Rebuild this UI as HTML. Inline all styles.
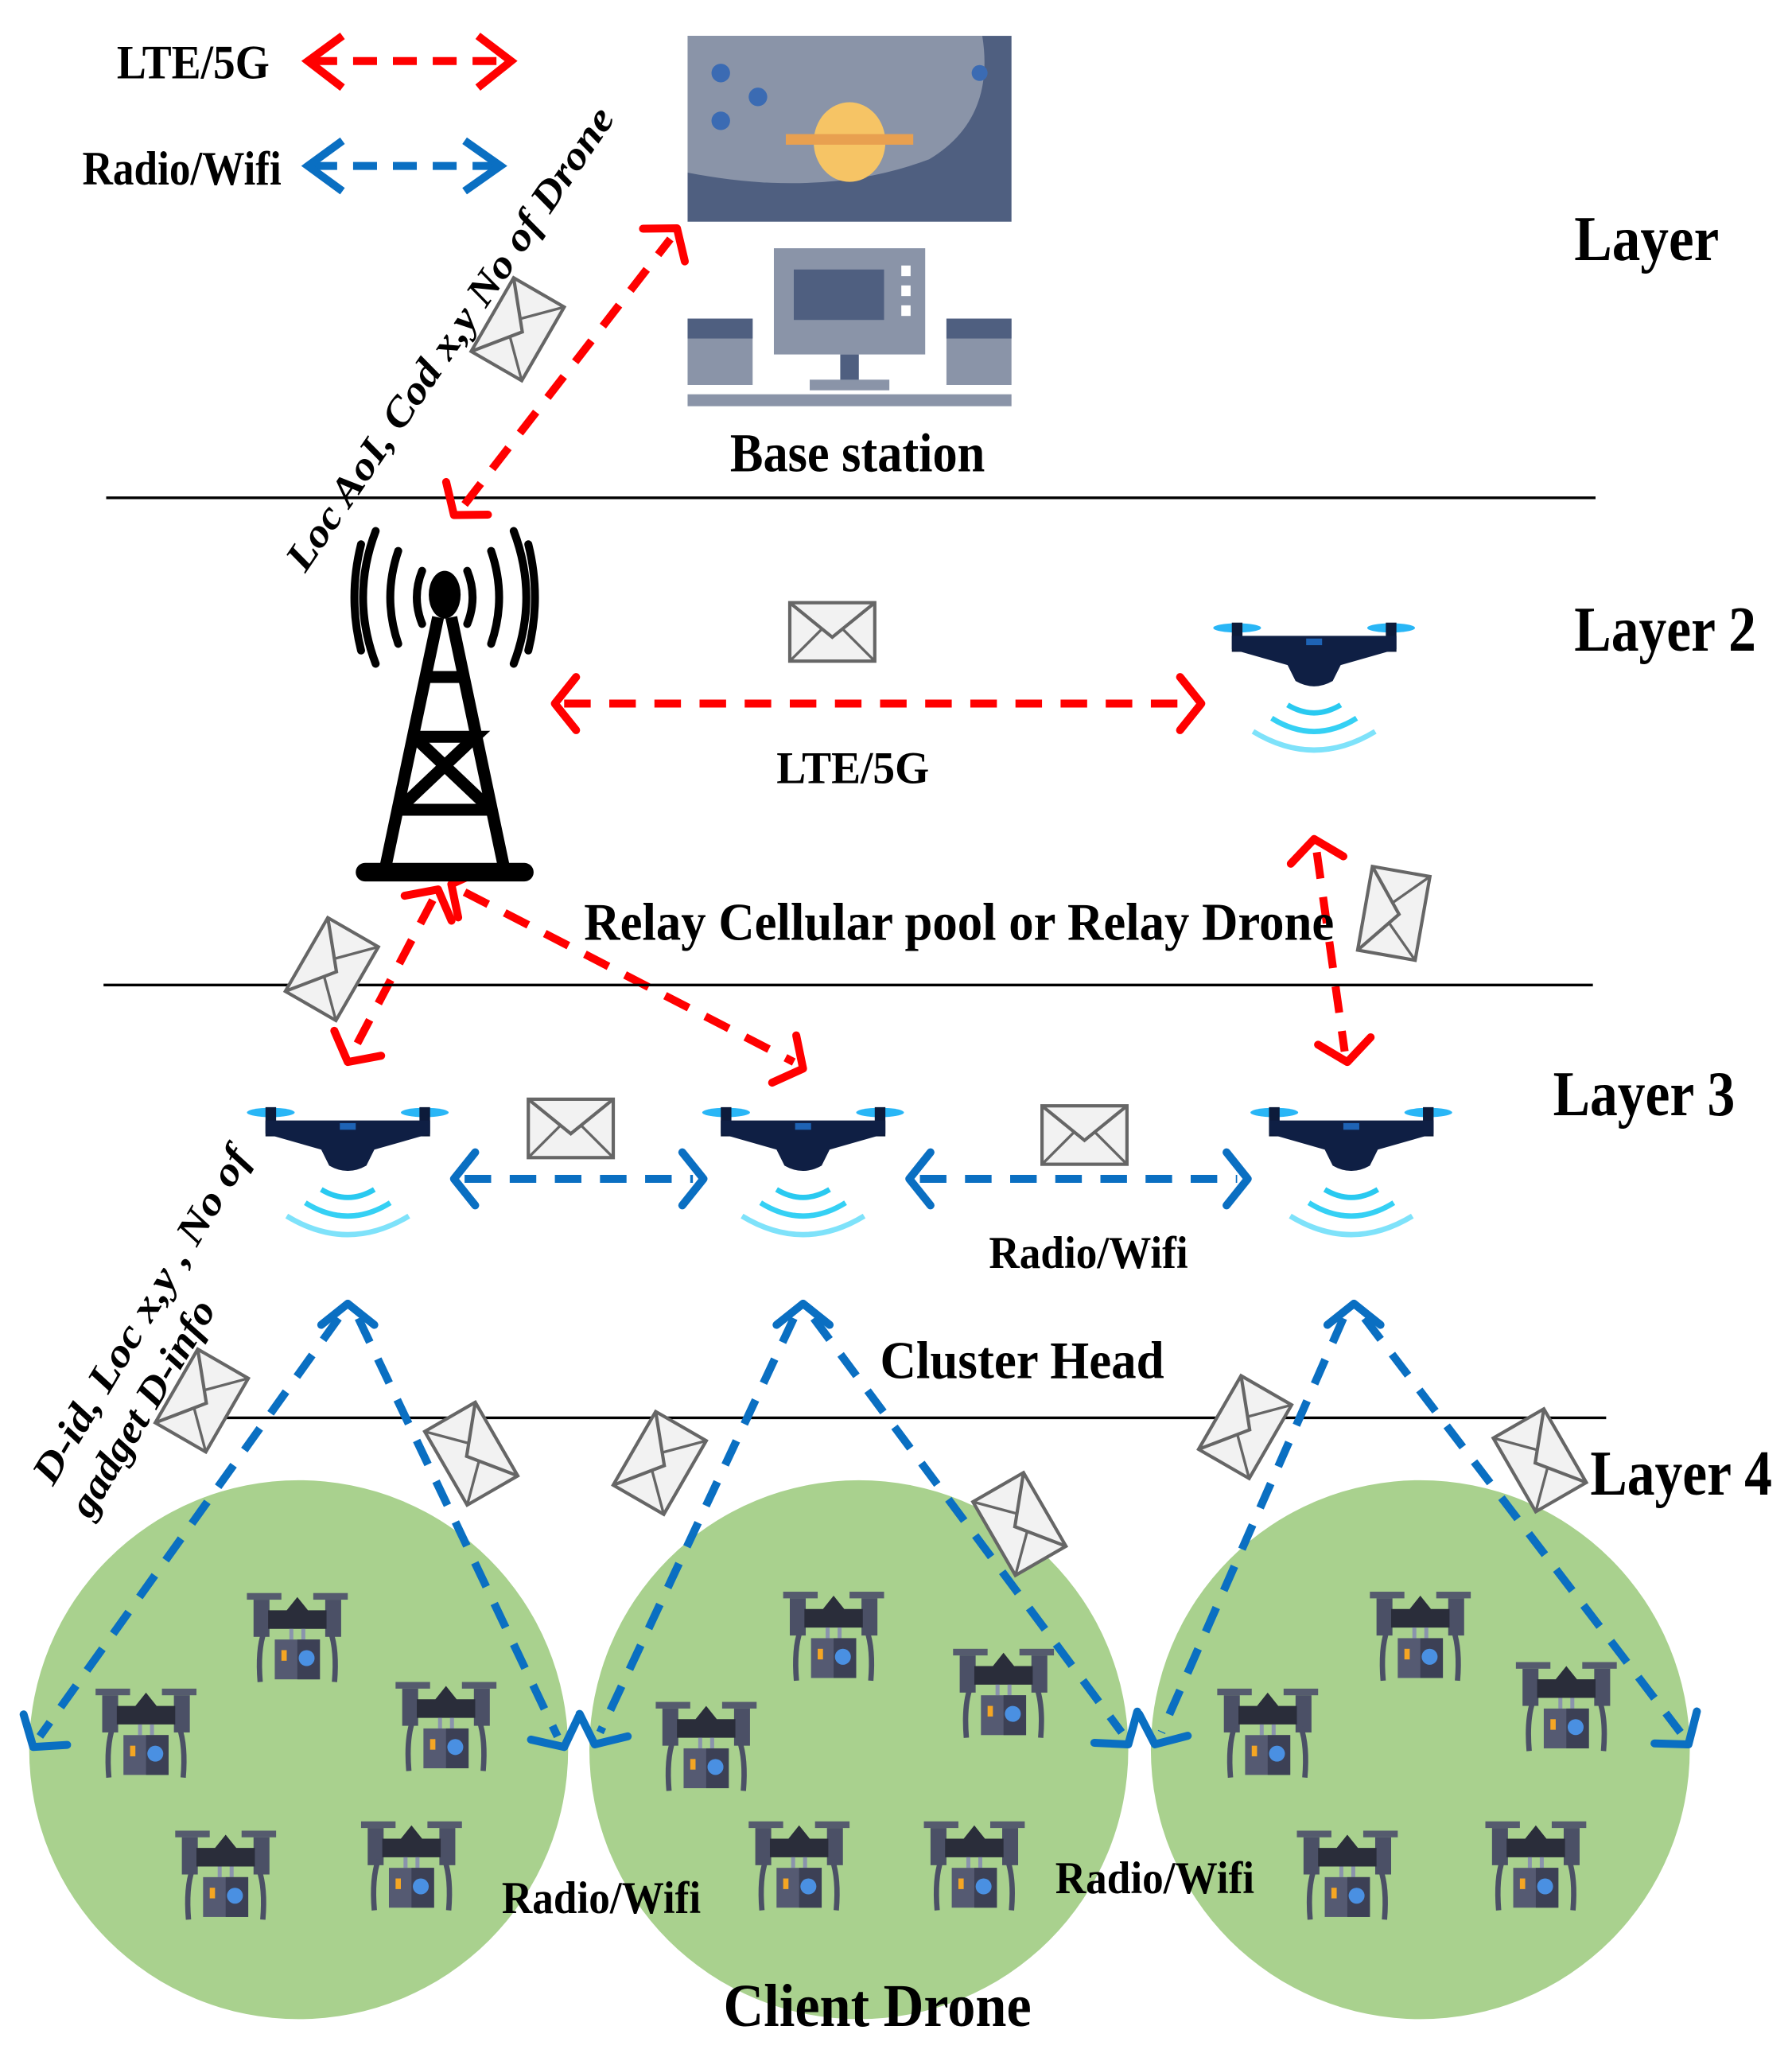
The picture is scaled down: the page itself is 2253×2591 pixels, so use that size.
<!DOCTYPE html>
<html><head><meta charset="utf-8"><style>
html,body{margin:0;padding:0;background:#fff;}
svg{display:block;}
text{font-family:"Liberation Serif",serif;font-weight:bold;fill:#000;}
</style></head><body>
<svg width="2253" height="2591" viewBox="0 0 1350 1552.5" preserveAspectRatio="none" xmlns="http://www.w3.org/2000/svg">
<defs>
<g id="env">
<rect x="-32" y="-22" width="64" height="44" fill="#f2f2f2" stroke="#666" stroke-width="2.5"/>
<polyline points="-32,-22 0,4 32,-22" fill="none" stroke="#666" stroke-width="2.5"/>
<line x1="-32" y1="22" x2="-8" y2="-2" stroke="#666" stroke-width="2"/>
<line x1="32" y1="22" x2="8" y2="-2" stroke="#666" stroke-width="2"/>
</g>
<g id="drone">
<ellipse cx="-58" cy="-22" rx="18" ry="3.5" fill="#29b6f6"/>
<ellipse cx="58" cy="-22" rx="18" ry="3.5" fill="#29b6f6"/>
<rect x="-62" y="-26" width="8" height="22" fill="#0d1b3a"/>
<rect x="54" y="-26" width="8" height="22" fill="#0d1b3a"/>
<path d="M-62,-16 L62,-16 L62,-6 L20,6 L14,18 Q0,26 -14,18 L-20,6 L-62,-6 Z" fill="#0f1f44"/>
<rect x="-6" y="-14" width="12" height="5" fill="#1e63b5"/>
<path d="M-20,36 Q0,48 20,36" fill="none" stroke="#29c9f0" stroke-width="4"/>
<path d="M-32,46 Q0,66 32,46" fill="none" stroke="#35d0f4" stroke-width="4"/>
<path d="M-46,56 Q0,84 46,56" fill="none" stroke="#7ee2fa" stroke-width="4"/>
</g>
<g id="cd">
<rect x="-38" y="-33" width="26" height="5" fill="#555b6e"/>
<rect x="12" y="-33" width="26" height="5" fill="#555b6e"/>
<rect x="-33" y="-28" width="12" height="28" fill="#4b5066"/>
<rect x="21" y="-28" width="12" height="28" fill="#4b5066"/>
<path d="M-22,-20 L-8,-20 L0,-30 L8,-20 L22,-20 L22,-6 L-22,-6 Z" fill="#2a2d3a"/>
<path d="M-25,-4 Q-30,10 -28,34" fill="none" stroke="#4b5066" stroke-width="4"/>
<path d="M25,-4 Q30,10 28,34" fill="none" stroke="#4b5066" stroke-width="4"/>
<rect x="-6" y="-6" width="3" height="8" fill="#8a93ad"/><rect x="3" y="-6" width="3" height="8" fill="#8a93ad"/>
<rect x="-17" y="2" width="34" height="30" fill="#555a72"/>
<rect x="0" y="2" width="17" height="30" fill="#3c4055"/>
<rect x="-12" y="10" width="4" height="8" fill="#f5a623"/>
<circle cx="7" cy="16" r="6" fill="#4a90e2"/>
</g>
<g id="rh"><polyline points="-16,-20 0,0 -16,20" fill="none" stroke-width="6" stroke-linecap="round" stroke-linejoin="round"/></g>
</defs>

<!-- legend -->
<text x="88" y="59" font-size="36" textLength="115" lengthAdjust="spacingAndGlyphs">LTE/5G</text>
<g stroke="#f00" stroke-width="6" fill="none">
<line x1="236" y1="46" x2="382" y2="46" stroke-dasharray="18,12"/>
<polyline points="258,27 232,46 258,66"/><polyline points="360,27 385,46 360,66"/>
</g>
<text x="62" y="139" font-size="36" textLength="150" lengthAdjust="spacingAndGlyphs">Radio/Wifi</text>
<g stroke="#0a6fc2" stroke-width="6" fill="none">
<line x1="236" y1="125" x2="375" y2="125" stroke-dasharray="18,12"/>
<polyline points="258,106 232,125 258,144"/><polyline points="350,106 377,125 350,144"/>
</g>

<!-- base station -->
<rect x="518" y="27" width="244" height="140" fill="#4f5f80"/>
<path d="M518,27 L740,27 Q750,90 700,120 Q620,150 518,130 Z" fill="#8a94a8"/>
<circle cx="543" cy="55" r="7" fill="#3b6bb3"/><circle cx="571" cy="73" r="7" fill="#3b6bb3"/><circle cx="543" cy="91" r="7" fill="#3b6bb3"/><circle cx="738" cy="55" r="6" fill="#3b6bb3"/>
<ellipse cx="640" cy="107" rx="27" ry="30" fill="#f6c465"/>
<rect x="592" y="101" width="96" height="8" fill="#e8a050"/>
<rect x="583" y="187" width="114" height="80" fill="#8a94a8"/>
<rect x="598" y="203" width="68" height="38" fill="#4f5f80"/>
<rect x="679" y="200" width="7" height="8" fill="#fff"/><rect x="679" y="215" width="7" height="8" fill="#fff"/><rect x="679" y="230" width="7" height="8" fill="#fff"/>
<rect x="633" y="267" width="14" height="20" fill="#4f5f80"/>
<rect x="610" y="286" width="60" height="8" fill="#8a94a8"/>
<rect x="518" y="240" width="49" height="50" fill="#8a94a8"/><rect x="518" y="240" width="49" height="15" fill="#4f5f80"/>
<rect x="713" y="240" width="49" height="50" fill="#8a94a8"/><rect x="713" y="240" width="49" height="15" fill="#4f5f80"/>
<rect x="518" y="297" width="244" height="9" fill="#8a94a8"/>
<text x="550" y="355" font-size="41" textLength="192" lengthAdjust="spacingAndGlyphs">Base station</text>
<text x="1186" y="196" font-size="48" textLength="109" lengthAdjust="spacingAndGlyphs">Layer</text>

<line x1="80" y1="375" x2="1202" y2="375" stroke="#000" stroke-width="2"/>
<text transform="translate(230,432) rotate(-55.7)" font-size="30" font-style="italic" textLength="415" lengthAdjust="spacingAndGlyphs">Loc AoI, Cod x,y No of Drone</text>
<use href="#env" transform="translate(390,248) rotate(-60)"/>

<!-- red arrows -->
<g stroke="#f00" stroke-width="6" fill="none">
<line x1="350" y1="380" x2="505" y2="180" stroke-dasharray="20,14"/>
<use href="#rh" stroke="#f00" transform="translate(510,172) rotate(-52)"/>
<use href="#rh" stroke="#f00" transform="translate(342,388) rotate(128)"/>
<line x1="425" y1="530" x2="900" y2="530" stroke-dasharray="20,14"/>
<use href="#rh" stroke="#f00" transform="translate(418,530) rotate(180)"/>
<use href="#rh" stroke="#f00" transform="translate(905,530)"/>
<line x1="992" y1="642" x2="1013" y2="792" stroke-dasharray="20,14"/>
<use href="#rh" stroke="#f00" transform="translate(990,632) rotate(-98)"/>
<use href="#rh" stroke="#f00" transform="translate(1015,800) rotate(82)"/>
<line x1="326" y1="678" x2="266" y2="792" stroke-dasharray="20,14"/>
<use href="#rh" stroke="#f00" transform="translate(330,670) rotate(-62)"/>
<use href="#rh" stroke="#f00" transform="translate(262,800) rotate(118)"/>
<line x1="350" y1="672" x2="598" y2="800" stroke-dasharray="20,14"/>
<use href="#rh" stroke="#f00" transform="translate(340,666) rotate(-153)"/>
<use href="#rh" stroke="#f00" transform="translate(605,805) rotate(27)"/>
</g>

<!-- tower -->
<g fill="none" stroke="#000" stroke-width="6" stroke-linecap="round">
<path d="M318,430 Q310,450 318,470"/><path d="M352,430 Q360,450 352,470"/>
<path d="M300,415 Q288,450 300,485"/><path d="M370,415 Q382,450 370,485"/>
<path d="M283,400 Q264,450 283,500"/><path d="M387,400 Q406,450 387,500"/>
<path d="M272,410 Q262,450 272,490"/><path d="M398,410 Q408,450 398,490"/>
</g>
<ellipse cx="335" cy="448" rx="12" ry="18" fill="#000"/>
<g stroke="#000" stroke-width="9" fill="none">
<path d="M330,465 L290,655 M340,465 L380,655"/>
<path d="M322,510 L348,510 M312,555 L358,555 L300,610 M312,555 L370,610 M300,610 L370,610"/>
</g>
<rect x="268" y="650" width="134" height="14" rx="7" fill="#000"/>

<use href="#env" transform="translate(627,476)"/>
<text x="585" y="590" font-size="34" textLength="115" lengthAdjust="spacingAndGlyphs">LTE/5G</text>
<use href="#drone" transform="translate(990,495)"/>
<text x="1186" y="490" font-size="48" textLength="137" lengthAdjust="spacingAndGlyphs">Layer 2</text>
<use href="#env" transform="translate(1050,688) rotate(-80)"/>
<text x="440" y="708" font-size="40" textLength="565" lengthAdjust="spacingAndGlyphs">Relay Cellular pool or Relay Drone</text>
<line x1="78" y1="742" x2="1200" y2="742" stroke="#000" stroke-width="2"/>
<use href="#env" transform="translate(250,730) rotate(-60)"/>

<text x="1170" y="840" font-size="48" textLength="137" lengthAdjust="spacingAndGlyphs">Layer 3</text>
<use href="#drone" transform="translate(262,860)"/>
<use href="#drone" transform="translate(605,860)"/>
<use href="#drone" transform="translate(1018,860)"/>
<g stroke="#0a6fc2" stroke-width="6" fill="none">
<line x1="350" y1="888" x2="522" y2="888" stroke-dasharray="20,14"/>
<use href="#rh" stroke="#0a6fc2" transform="translate(342,888) rotate(180)"/>
<use href="#rh" stroke="#0a6fc2" transform="translate(530,888)"/>
<line x1="693" y1="888" x2="932" y2="888" stroke-dasharray="20,14"/>
<use href="#rh" stroke="#0a6fc2" transform="translate(685,888) rotate(180)"/>
<use href="#rh" stroke="#0a6fc2" transform="translate(940,888)"/>
</g>
<use href="#env" transform="translate(430,850)"/>
<use href="#env" transform="translate(817,855)"/>
<text x="745" y="955" font-size="34" textLength="150" lengthAdjust="spacingAndGlyphs">Radio/Wifi</text>
<text x="663" y="1038" font-size="40" textLength="214" lengthAdjust="spacingAndGlyphs">Cluster Head</text>
<line x1="145" y1="1068" x2="1210" y2="1068" stroke="#000" stroke-width="2"/>
<text x="1198" y="1126" font-size="48" textLength="137" lengthAdjust="spacingAndGlyphs">Layer 4</text>

<!-- circles -->
<circle cx="225" cy="1318" r="203" fill="#a9d18e"/>
<circle cx="647" cy="1318" r="203" fill="#a9d18e"/>
<circle cx="1070" cy="1318" r="203" fill="#a9d18e"/>

<text transform="translate(40,1120) rotate(-59)" font-size="30" font-style="italic" textLength="290" lengthAdjust="spacingAndGlyphs">D-id, Loc x,y , No of</text>
<text transform="translate(68,1145) rotate(-59)" font-size="30" font-style="italic" textLength="185" lengthAdjust="spacingAndGlyphs">gadget D-info</text>

<g stroke="#0a6fc2" stroke-width="6" fill="none">
<line x1="255" y1="993" x2="30" y2="1308" stroke-dasharray="20,14"/>
<line x1="270" y1="993" x2="420" y2="1308" stroke-dasharray="20,14"/>
<use href="#rh" stroke="#0a6fc2" transform="translate(262,982) rotate(-90)"/>
<use href="#rh" stroke="#0a6fc2" transform="translate(25,1316) rotate(125)"/>
<use href="#rh" stroke="#0a6fc2" transform="translate(425,1316) rotate(64)"/>
<line x1="598" y1="993" x2="452" y2="1305" stroke-dasharray="20,14"/>
<line x1="613" y1="993" x2="845" y2="1305" stroke-dasharray="20,14"/>
<use href="#rh" stroke="#0a6fc2" transform="translate(605,982) rotate(-90)"/>
<use href="#rh" stroke="#0a6fc2" transform="translate(448,1314) rotate(115)"/>
<use href="#rh" stroke="#0a6fc2" transform="translate(850,1314) rotate(54)"/>
<line x1="1012" y1="993" x2="875" y2="1305" stroke-dasharray="20,14"/>
<line x1="1028" y1="993" x2="1266" y2="1305" stroke-dasharray="20,14"/>
<use href="#rh" stroke="#0a6fc2" transform="translate(1020,982) rotate(-90)"/>
<use href="#rh" stroke="#0a6fc2" transform="translate(870,1314) rotate(114)"/>
<use href="#rh" stroke="#0a6fc2" transform="translate(1272,1314) rotate(53)"/>
</g>
<use href="#env" transform="translate(152,1055) rotate(-60)"/>
<use href="#env" transform="translate(355,1095) rotate(60)"/>
<use href="#env" transform="translate(497,1102) rotate(-60)"/>
<use href="#env" transform="translate(768,1148) rotate(60)"/>
<use href="#env" transform="translate(938,1075) rotate(-60)"/>
<use href="#env" transform="translate(1160,1100) rotate(60)"/>

<!-- client drones -->
<use href="#cd" transform="translate(224,1233)"/>
<use href="#cd" transform="translate(110,1305)"/>
<use href="#cd" transform="translate(336,1300)"/>
<use href="#cd" transform="translate(170,1412)"/>
<use href="#cd" transform="translate(310,1405)"/>
<use href="#cd" transform="translate(628,1232)"/>
<use href="#cd" transform="translate(756,1275)"/>
<use href="#cd" transform="translate(532,1315)"/>
<use href="#cd" transform="translate(602,1405)"/>
<use href="#cd" transform="translate(734,1405)"/>
<use href="#cd" transform="translate(1070,1232)"/>
<use href="#cd" transform="translate(955,1305)"/>
<use href="#cd" transform="translate(1180,1285)"/>
<use href="#cd" transform="translate(1015,1412)"/>
<use href="#cd" transform="translate(1157,1405)"/>

<text x="378" y="1441" font-size="34" textLength="150" lengthAdjust="spacingAndGlyphs">Radio/Wifi</text>
<text x="795" y="1426" font-size="34" textLength="150" lengthAdjust="spacingAndGlyphs">Radio/Wifi</text>
<text x="545" y="1526" font-size="46" textLength="232" lengthAdjust="spacingAndGlyphs">Client Drone</text>
</svg>
</body></html>
